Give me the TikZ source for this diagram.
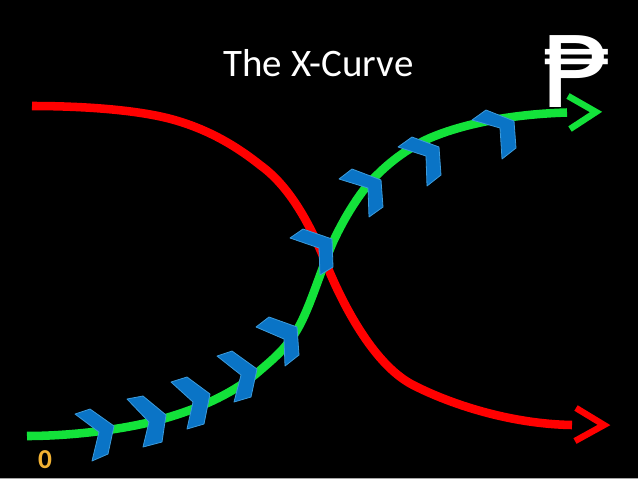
\documentclass[tikz,border=0pt]{standalone}
\usepackage{fontspec}
\setmainfont{Carlito}
\newfontfamily\symfont{DejaVu Sans}
\definecolor{cgreen}{HTML}{13E23A}
\definecolor{cred}{HTML}{FF0000}
\definecolor{cblue}{HTML}{0A74C6}
\definecolor{cedge}{HTML}{3C9BDB}
\definecolor{corange}{HTML}{F2B233}
\tikzset{
  curveline/.style={line width=6.4pt,line cap=butt},
  headline/.style={line width=4.8pt,miter limit=10},
  chevron/.style={fill=cblue,draw=cedge,line width=0.6pt,line join=round},
}
\begin{document}
\begin{tikzpicture}[x=0.75pt,y=-0.75pt]
\useasboundingbox (0,0) rectangle (638,479);
\fill[black] (0,0) rectangle (638,479);
\fill[gray!70] (0,477.7) rectangle (638,479);
\node[text=white,font=\fontsize{29.2pt}{34pt}\selectfont,anchor=base] (title) at (318.5,76) {The X-Curve};
\node[text=white,font=\symfont\fontsize{74pt}{80pt}\selectfont,anchor=base,xscale=1.17] (peso) at (578,107) {₱};
\node[text=corange,font=\bfseries\fontsize{20.5pt}{22pt}\selectfont,anchor=base] (zero) at (45,468) {0};
% red curve
\draw[cred,curveline] (32,106) .. controls (77,106) and (130,109) .. (167,118)
  .. controls (205,127.5) and (235,145) .. (260,165)
  .. controls (295,190) and (316,238) .. (330,273)
  .. controls (349,317) and (378,367) .. (413,385)
  .. controls (450,404) and (510,424) .. (572,425);
\draw[cred,headline] (576,408) -- (604,425) -- (575,441);
% green curve
\draw[cgreen,curveline] (27,436) .. controls (70,436) and (126,429.7) .. (166,418)
  .. controls (200,408) and (232,394) .. (257,373)
  .. controls (272,360) and (285,350) .. (297,330)
  .. controls (310,308) and (320,272) .. (333,242)
  .. controls (345,216) and (362,189) .. (377,175)
  .. controls (392,160) and (410,147) .. (430,138)
  .. controls (465,123) and (515,114) .. (567,112.5);
\draw[cgreen,headline] (568,96) -- (596,112) -- (570,129);
% chevrons
\draw[chevron] (75,414) -- (90,409) -- (114,426) -- (108,454) -- (92,461) -- (99,432) -- cycle;
\draw[chevron] (127,399) -- (143,396) -- (166,415) -- (162,442) -- (143,447) -- (149,422) -- cycle;
\draw[chevron] (171,382) -- (187,377) -- (210,394) -- (204,424) -- (187,429) -- (193,402) -- cycle;
\draw[chevron] (217,356) -- (232,351) -- (257,369) -- (251,397) -- (234,402) -- (241,375) -- cycle;
\draw[chevron] (256,327) -- (269,317) -- (297,327) -- (299,355) -- (285,366) -- (284,339) -- cycle;
\draw[chevron] (290,238) -- (303,229) -- (332,239) -- (333,267) -- (320,275) -- (319,248) -- cycle;
\draw[chevron] (339,179) -- (352,169) -- (381,180) -- (383,207) -- (369,217) -- (368,188) -- cycle;
\draw[chevron] (398,147) -- (412,137) -- (439,147) -- (441,175) -- (427,186) -- (426,156) -- cycle;
\draw[chevron] (472,120) -- (486,110) -- (514,121) -- (516,148) -- (502,159) -- (500,128) -- cycle;
\end{tikzpicture}
\end{document}
